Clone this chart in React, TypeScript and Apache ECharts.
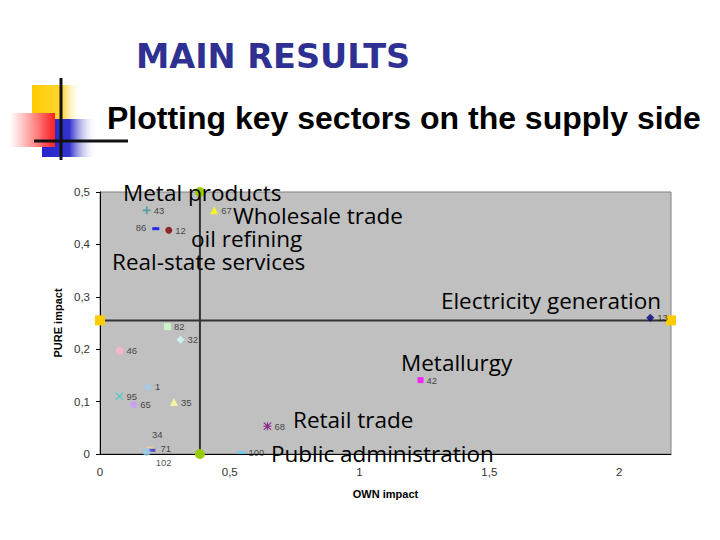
import React, { useEffect, useRef } from "react";
import * as echarts from "echarts";

// Sector codes and their impacts
const sectorIds = ["43", "67", "86", "12", "13", "82", "32", "46", "42", "1", "95", "65", "35", "68", "100", "34", "71", "102"];
const ownImpact = [0.18, 0.44, 0.215, 0.265, 2.12, 0.26, 0.31, 0.075, 1.235, 0.185, 0.075, 0.13, 0.285, 0.645, 0.545, 0.19, 0.2, 0.18];
const pureImpact = [0.465, 0.465, 0.43, 0.427, 0.26, 0.243, 0.218, 0.197, 0.141, 0.128, 0.11, 0.094, 0.099, 0.053, 0.003, 0.012, 0.007, 0.004];

// Averages (cross lines)
const ownMean = 0.385;
const pureMean = 0.255;

// Axis settings
const xMin = 0;
const xMax = 2.2;
const xInterval = 0.5;
const yMin = 0;
const yMax = 0.5;
const yInterval = 0.1;

// Annotated key sectors
const annotations = [
  "Metal products",
  "Wholesale trade",
  "oil refining",
  "Real-state services",
  "Electricity generation",
  "Metallurgy",
  "Retail trade",
  "Public administration",
];

const P_PLUS = "path://M4,0H6V4H10V6H6V10H4V6H0V4H4Z";
const P_DASH = "path://M0,0H10V3H0Z";
const P_X = "path://M1,0L5,4L9,0L10,1L6,5L10,9L9,10L5,6L1,10L0,9L4,5L0,1Z";
const P_AST = "path://M4.3,0H5.7V4.3H10V5.7H5.7V10H4.3V5.7H0V4.3H4.3Z M1,0L5,4L9,0L10,1L6,5L10,9L9,10L5,6L1,10L0,9L4,5L0,1Z";

const markerStyles: { symbol: string; color: string; size: number | number[]; pos: string; off?: number[] }[] = [
  { symbol: P_PLUS, color: "#339999", size: 8, pos: "right" },
  { symbol: "triangle", color: "#ffff00", size: 8, pos: "right" },
  { symbol: P_DASH, color: "#0000ff", size: [7, 3], pos: "left", off: [-3, -1] },
  { symbol: "circle", color: "#800000", size: 7, pos: "right" },
  { symbol: "diamond", color: "#000080", size: 8, pos: "right" },
  { symbol: "rect", color: "#ccffcc", size: 7, pos: "right" },
  { symbol: "diamond", color: "#ccffff", size: 8, pos: "right" },
  { symbol: "circle", color: "#ffb3cc", size: 8, pos: "right" },
  { symbol: "rect", color: "#ff00ff", size: 6, pos: "right" },
  { symbol: "circle", color: "#a6c8e6", size: 8, pos: "right" },
  { symbol: P_X, color: "#33cccc", size: 8, pos: "right" },
  { symbol: "circle", color: "#cc99ff", size: 7, pos: "right" },
  { symbol: "triangle", color: "#ffff99", size: 8, pos: "right" },
  { symbol: P_AST, color: "#800080", size: 8, pos: "right" },
  { symbol: P_DASH, color: "#66ccff", size: [8, 3], pos: "right" },
  { symbol: P_DASH, color: "#ffcc99", size: [7, 2], pos: "top", off: [8, -4] },
  { symbol: P_DASH, color: "#3333cc", size: [7, 3], pos: "right", off: [2, -2] },
  { symbol: "circle", color: "#99ccee", size: 8, pos: "bottom", off: [17, -1] },
];

const annFont = "'Open Sans', 'DejaVu Sans', sans-serif";
const annPlacement = [
  { x: 123, y: 192, align: "left" },
  { x: 233, y: 215, align: "left" },
  { x: 191, y: 238, align: "left" },
  { x: 112, y: 261, align: "left" },
  { x: 661, y: 300, align: "right" },
  { x: 401, y: 362, align: "left" },
  { x: 293, y: 419, align: "left" },
  { x: 271, y: 453, align: "left" },
];

const comma = (v: number) => String(Math.round(v * 10) / 10).replace(".", ",");

export default function App() {
  const ref = useRef<HTMLDivElement>(null);
  useEffect(() => {
    if (!ref.current) return;
    const chart = echarts.init(ref.current, null, { renderer: "svg" });
    const points = sectorIds.map((id, i) => ({
      value: [ownImpact[i], pureImpact[i], id],
      symbol: markerStyles[i].symbol,
      symbolSize: markerStyles[i].size,
      itemStyle: { color: markerStyles[i].color },
      label: { position: markerStyles[i].pos as any, offset: markerStyles[i].off || [0, 0] },
    }));
    chart.setOption({
      animation: false,
      backgroundColor: "#ffffff",
      grid: {
        left: 100,
        right: 49,
        top: 192,
        bottom: 86,
        show: true,
        backgroundColor: "#c0c0c0",
        borderColor: "#808080",
        borderWidth: 1,
      },
      xAxis: {
        type: "value",
        min: xMin,
        max: xMax,
        interval: xInterval,
        name: "OWN impact",
        nameLocation: "middle",
        nameGap: 34,
        nameTextStyle: { fontFamily: "'Liberation Sans', Arial, sans-serif", fontWeight: "bold", fontSize: 11, color: "#000" },
        axisLine: { show: true, onZero: false, lineStyle: { color: "#000", width: 1 } },
        axisTick: { show: false },
        splitLine: { show: false },
        axisLabel: {
          formatter: (v: number) => (v > 2.05 ? "" : comma(v)),
          fontFamily: "'Liberation Sans', Arial, sans-serif",
          fontSize: 11.5,
          color: "#333",
          margin: 12,
        },
      },
      yAxis: {
        type: "value",
        min: yMin,
        max: yMax,
        interval: yInterval,
        name: "PURE impact",
        nameLocation: "middle",
        nameGap: 33,
        nameRotate: 90,
        nameTextStyle: { fontFamily: "'Liberation Sans', Arial, sans-serif", fontWeight: "bold", fontSize: 11, color: "#000" },
        axisLine: { show: true, onZero: false, lineStyle: { color: "#000", width: 1 } },
        axisTick: { show: true, length: 4, lineStyle: { color: "#000" } },
        splitLine: { show: false },
        axisLabel: {
          formatter: (v: number) => comma(v),
          fontFamily: "'Liberation Sans', Arial, sans-serif",
          fontSize: 11.5,
          color: "#333",
          margin: 10,
        },
      },
      series: [
        {
          type: "line",
          data: [[xMin, pureMean], [xMax, pureMean]],
          symbol: "rect",
          symbolSize: 10,
          lineStyle: { color: "#333", width: 2 },
          itemStyle: { color: "#ffcc00" },
          z: 2,
          clip: false,
        },
        {
          type: "line",
          data: [[ownMean, yMin], [ownMean, yMax]],
          symbol: "circle",
          symbolSize: 10,
          lineStyle: { color: "#333", width: 2 },
          itemStyle: { color: "#99cc00" },
          z: 2,
          clip: false,
        },
        {
          type: "scatter",
          data: points,
          z: 3,
          clip: false,
          label: {
            show: true,
            formatter: (p: any) => p.value[2],
            fontFamily: "'Liberation Sans', Arial, sans-serif",
            fontSize: 9.5,
            color: "#222",
            distance: 3,
          },
        },
      ],
      graphic: [
        // logo
        { type: "rect", shape: { x: 32, y: 85, width: 50, height: 36 },
          style: { fill: new echarts.graphic.LinearGradient(0, 0, 1, 0, [{ offset: 0, color: "#ffcc00" }, { offset: 0.6, color: "#ffd633" }, { offset: 1, color: "rgba(255,255,255,0)" }]) } },
        { type: "rect", shape: { x: 42, y: 119, width: 55, height: 38 },
          style: { fill: new echarts.graphic.LinearGradient(0, 0, 1, 0, [{ offset: 0, color: "#2424cc" }, { offset: 0.5, color: "#3333cc" }, { offset: 1, color: "rgba(255,255,255,0)" }]) } },
        { type: "rect", shape: { x: 10, y: 113, width: 45, height: 34 },
          style: { fill: new echarts.graphic.LinearGradient(0, 0, 1, 0, [{ offset: 0, color: "rgba(255,255,255,0.9)" }, { offset: 1, color: "#ff2020" }]) } },
        { type: "line", shape: { x1: 61, y1: 78, x2: 61, y2: 160 }, style: { stroke: "#111", lineWidth: 3 } },
        { type: "line", shape: { x1: 34, y1: 141, x2: 128, y2: 141 }, style: { stroke: "#111", lineWidth: 3 } },
        // titles
        { type: "text", x: 273, y: 56, style: { text: "MAIN RESULTS", font: "bold 33.5px 'DejaVu Sans', Verdana, sans-serif", fill: "#2e3192", align: "center", verticalAlign: "middle" } },
        { type: "text", x: 107, y: 118, style: { text: "Plotting key sectors on the supply side", font: "bold 32px 'Liberation Sans', Arial, sans-serif", fill: "#000", align: "left", verticalAlign: "middle" } },
        ...annotations.map((t, i) => ({
          type: "text",
          z: 10,
          x: annPlacement[i].x,
          y: annPlacement[i].y,
          style: { text: t, font: `22.5px ${annFont}`, fill: "#000", align: annPlacement[i].align, verticalAlign: "middle" },
        })),
      ],
    });
    return () => chart.dispose();
  }, []);
  return <div ref={ref} style={{ position: "fixed", left: 0, top: 0, width: 720, height: 540 }} />;
}
